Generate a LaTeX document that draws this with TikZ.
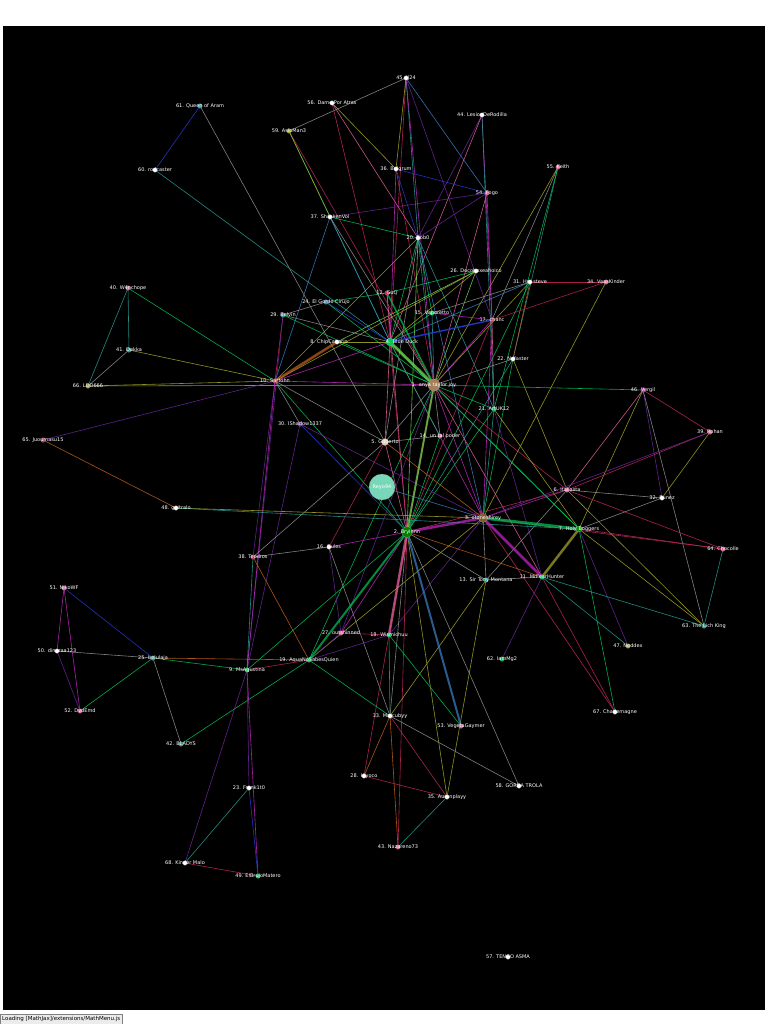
\documentclass[tikz,border=0pt]{standalone}
\usepackage{fontspec}
\setmainfont{DejaVu Sans}
\begin{document}
\begin{tikzpicture}[x=1pt,y=-1pt,
  lbl/.style={text=white,font=\fontsize{5}{6}\selectfont,inner sep=0pt},
  dot/.style={circle,inner sep=0pt,minimum size=4.5pt,draw=white!60!black,line width=0.2pt},
  edge/.style={line width=0.6pt,opacity=0.85}]
\definecolor{cA}{RGB}{0,200,90}\definecolor{cB}{RGB}{200,40,200}
\definecolor{cC}{RGB}{40,160,150}\definecolor{cD}{RGB}{170,170,40}
\definecolor{cE}{RGB}{200,40,90}\definecolor{cF}{RGB}{150,150,150}
\definecolor{cG}{RGB}{40,60,220}\definecolor{cH}{RGB}{200,100,30}
\definecolor{cI}{RGB}{110,40,160}\definecolor{cJ}{RGB}{120,220,80}
\definecolor{cK}{RGB}{230,100,160}\definecolor{cL}{RGB}{60,130,200}
\definecolor{mint}{RGB}{120,215,185}
\useasboundingbox (0,0) rectangle (768,1024);
\fill[white] (0,0) rectangle (768,1024);
\fill[black] (3,26) rectangle (765,1010);
% coordinates
\foreach \n/\x/\y in {45/406/78,56/332/103,61/200/106,44/482/115,59/289/131,36/396/169,55/558/167,60/155/170,54/487/193,37/330/217,20/418/238,26/476/271,31/530/282,34/606/282,40/128/288,12/387/293,24/326/302,15/432/313,29/283/315,17/492/320,8/337/342,4/390/342,41/129/350,22/513/359,10/275/381,66/88/386,1/434/385,46/643/390,21/494/409,30/300/424,39/710/432,14/440/436,65/43/440,5/385/442,R/382/487,6/567/490,32/662/498,48/176/508,3/483/518,7/579/529,2/407/532,64/723/549,16/329/547,38/253/557,13/486/580,11/542/577,51/64/588,63/704/626,27/341/633,18/389/635,47/628/646,50/57/651,25/153/658,19/309/660,9/247/670,62/502/659,52/80/711,67/615/712,33/390/716,53/461/726,42/181/744,28/364/776,58/519/786,23/249/788,35/447/797,43/398/847,68/185/863,49/258/876,57/508/957}
  \coordinate (n\n) at (\x,\y);
% thin edges
\foreach \a/\b/\c in {45/20/cC,45/4/cE,45/36/cD,45/1/cB,45/54/cL,45/59/cF,45/17/cI,56/4/cE,56/36/cD,56/20/cK,61/60/cG,61/5/cF,44/20/cI,44/17/cB,44/21/cC,44/4/cK,59/4/cA,59/1/cE,59/37/cD,36/20/cG,36/4/cB,36/1/cE,36/54/cG,55/22/cC,55/17/cF,55/1/cD,55/21/cA,60/4/cC,54/20/cI,54/17/cB,54/1/cK,54/37/cI,37/4/cL,37/10/cL,37/1/cF,37/20/cA,20/4/cA,20/1/cC,20/2/cJ,20/5/cF,20/15/cA,20/10/cD,20/3/cL,20/21/cC,26/4/cD,26/1/cJ,26/8/cJ,26/12/cA,26/10/cD,31/4/cL,31/34/cE,31/1/cD,31/15/cF,31/2/cA,31/22/cH,34/17/cE,34/3/cD,40/41/cC,40/66/cC,40/10/cA,41/66/cF,41/10/cD,66/10/cD,66/1/cD,12/4/cE,12/2/cK,12/24/cA,24/4/cG,24/29/cF,24/1/cA,29/4/cF,29/10/cE,29/1/cA,29/9/cI,15/4/cA,15/17/cB,15/1/cC,17/4/cG,17/1/cB,17/2/cE,17/21/cK,17/3/cB,8/4/cD,8/1/cA,4/2/cE,4/5/cK,4/3/cB,4/10/cB,4/14/cA,4/7/cA,22/1/cF,22/2/cC,22/3/cA,22/6/cD,10/1/cB,10/5/cF,10/2/cA,10/38/cI,10/9/cB,10/30/cF,10/65/cI,1/3/cB,1/5/cF,1/14/cF,1/6/cE,1/7/cA,1/11/cK,1/21/cA,1/46/cA,1/19/cA,1/27/cI,1/18/cE,46/6/cK,46/32/cI,46/7/cD,46/39/cE,46/63/cF,21/2/cA,21/3/cC,21/11/cI,21/7/cD,30/2/cG,30/3/cI,30/9/cI,39/6/cE,39/32/cD,39/3/cI,14/2/cA,14/5/cF,65/48/cH,5/2/cK,5/38/cF,5/16/cE,5/3/cH,R/2/cC,R/3/cL,6/3/cB,6/32/cF,6/2/cE,6/64/cE,6/63/cD,6/13/cF,32/7/cF,48/3/cD,48/7/cC,3/13/cF,3/18/cI,3/19/cD,3/64/cE,3/67/cE,7/64/cE,7/47/cI,7/63/cD,7/67/cA,2/16/cB,2/11/cH,2/13/cF,2/9/cA,2/33/cF,2/35/cD,2/58/cF,2/43/cE,2/27/cB,64/63/cC,16/38/cF,16/27/cI,16/33/cF,38/9/cC,38/19/cH,11/62/cI,11/13/cF,11/63/cC,11/67/cE,11/47/cC,13/33/cD,13/35/cD,51/50/cB,51/52/cB,51/25/cG,50/25/cF,50/52/cI,52/25/cA,27/18/cE,27/19/cI,18/33/cA,18/19/cI,18/53/cA,18/28/cE,25/42/cF,25/9/cA,25/19/cH,19/9/cE,19/42/cA,19/33/cA,9/23/cI,9/68/cI,9/49/cB,33/28/cH,33/43/cH,33/35/cE,33/58/cF,23/68/cC,23/49/cG,68/49/cE,28/35/cE,43/35/cC}
  \draw[edge,draw=\c] (n\a) -- (n\b);
% thick edges
\foreach \a/\b/\c/\w in {8/10/cH/2.5,4/1/cJ/3,1/2/cJ/2,3/2/cB/2.5,3/7/cA/3,3/11/cB/2.5,7/11/cD/2.5,2/18/cK/2.5,2/19/cA/2,2/53/cL/2,4/17/cG/1.5,12/1/cA/1.5}
  \draw[draw=\c,line width=\w pt,opacity=0.7] (n\a) -- (n\b);
% dots
\foreach \n/\c in {45/white,56/white,61/cC,44/white,59/cD,36/white,55/cK,60/white,54/cK,37/white,20/white,26/white,31/white,34/cK,40/cK,12/cE,24/cL,15/cA,29/cC,17/cE,8/white,41/cC,22/white,10/cE,66/cD,46/cB,21/cA,30/cI,39/cK,14/cK,65/cE,6/cK,32/white,48/white,64/cK,16/white,38/cE,13/cC,11/cA,51/cK,63/cC,27/cK,18/cA,47/cD,50/white,25/cC,19/cA,9/cA,62/cA,52/cK,67/white,33/white,53/cK,42/cC,28/white,58/white,23/white,35/white,43/cK,68/white,49/cA,57/white}
  \node[dot,fill=\c] at (n\n) {};
\node[dot,fill=cA,minimum size=8pt] at (n4) {};
\node[dot,fill=brown!60!gray,minimum size=12pt] at (n1) {};
\node[dot,fill=green!50!black,minimum size=11pt] at (n2) {};
\node[dot,fill=brown!70!black,minimum size=9pt] at (n3) {};
\node[dot,fill=brown!40!white,minimum size=7pt] at (n5) {};
\node[dot,fill=green!60!black,minimum size=6pt] at (n7) {};
\node[dot,fill=mint,minimum size=26pt] at (nR) {};
% labels
\foreach \n/\t in {45/45. JJ24,56/56. Dame Por Atras,61/61. Queen of Aram,44/44. LesionDeRodilla,59/59. AsioMan3,36/36. Belgrum,55/55. Keith,60/60. rodcaster,54/54. Fogo,37/37. ShaskenVol,20/20. Rob0,26/26. Docoboxeahoico,31/31. Hm steve,34/34. VaasKinder,40/40. W4nchope,12/12. GuQ,24/24. El Gordo Cirujo,15/15. Vaporetto,29/29. Belvin,17/17. chanc,22/22. Nefaster,41/41. Dekka,10/10. Sartohn,66/66. LDO666,1/1. anya taylor joy,46/46. Vergil,21/21. ArtUK12,30/30. IShadow1337,39/39. Rohan,14/14. un tal poder,65/65. Juoumasu15,5/5. Gdberto,R/Reyo94,6/6. Italiasta,32/32. Runez,48/48. gaitralo,3/3. otoneshirey,7/7. Holy Boggers,2/2. Bryinnn,64/64. Chocolle,16/16. Gules,38/38. Teodros,13/13. Sir Tony Montana,11/11. MrFearHunter,51/51. NikoWF,63/63. The Lich King,27/27. outshinned,18/18. Wismichuu,47/47. Noddex,50/50. dinoraa123,25/25. belulaja,19/19. AquaNoSabesQuien,9/9. MsAgustina,62/62. IamMg2,52/52. DvdEmd,67/67. Charlemagne,33/33. Marcubyy,53/53. VegetaGaymer,42/42. BLADYS,28/28. Hiyoco,58/58. GORDA TROLA,23/23. Frank1t0,35/35. Auronplayy,43/43. Nazareno73,68/68. Kinder Malo,49/49. ElBrujoMatero,57/57. TENGO ASMA}
  \node[lbl] (l\n) at (n\n) {\t};
\node[lbl,text=white] (l8) at ([xshift=-8pt]n8) {8. ChipCanario};
\node[lbl] (l4) at ([xshift=12pt]n4) {4. Blue Duck};
% status bar
\node[draw=gray,fill=gray!15,text=black,font=\fontsize{5.5}{6}\selectfont,anchor=south west,inner sep=2pt] (status) at (0,1024) {Loading [MathJax]/extensions/MathMenu.js};
\end{tikzpicture}
\end{document}
